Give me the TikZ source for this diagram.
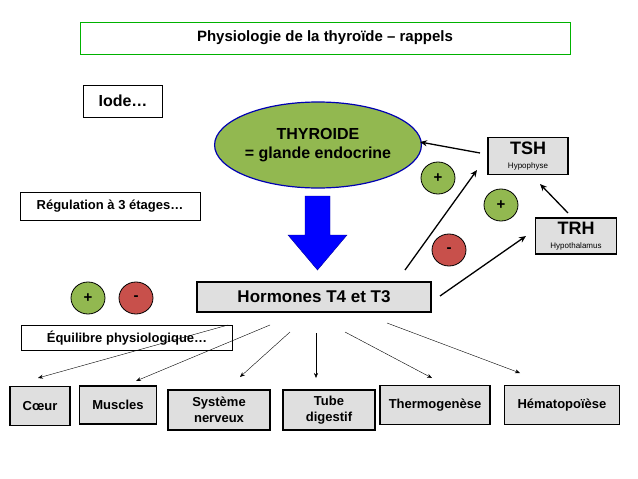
\documentclass[tikz,border=0pt]{standalone}
\usepackage{fontspec}
\setmainfont{Liberation Sans}
\usetikzlibrary{shapes.geometric,arrows.meta}
\newcommand{\fs}[1]{\fontsize{#1}{\numexpr#1*6/5\relax}\selectfont}
\begin{document}
\begin{tikzpicture}[x=1pt,y=-1pt,font=\bfseries\fs{13},
 box/.style={draw,line width=1.3pt,fill=gray!25,inner sep=0pt,align=center},
 wbox/.style={draw,inner sep=0pt,align=center},
 pm/.style={draw,thick,ellipse,minimum width=34pt,minimum height=32pt,inner sep=0pt,font=\bfseries\fs{15}},
 ar/.style={-{Stealth[length=7pt,width=6pt]},line width=1.3pt},
 ar2/.style={-{Stealth[length=5pt,width=4pt]}}]
\definecolor{gg}{RGB}{146,184,80}\definecolor{rr}{RGB}{200,80,75}
\useasboundingbox (0,0) rectangle (638,479);
\node[wbox,draw=green!70!black,thick,minimum width=490pt,minimum height=32pt,font=\bfseries\fs{15}] (title) at (325,38) {Physiologie de la thyroïde -- rappels};
\node[wbox,thick,minimum width=79pt,minimum height=32pt,font=\bfseries\fs{16}] (iode) at (123,101) {Iode…};
\node[draw=blue!70!black,line width=1.2pt,fill=gg,ellipse,inner sep=0pt,minimum width=176pt,minimum height=86pt,align=center,font=\bfseries\fs{16}] (thy) at (318,145) {THYROIDE\\= glande endocrine};
\node[wbox,thick,minimum width=180pt,minimum height=28pt] (reg) at (110,206) {Régulation à 3 étages…};
\node[box,minimum width=80pt,minimum height=37pt] (tsh) at (528,156) {{\fs{18}TSH}\\[-2pt]{\mdseries\fs{8}Hypophyse}};
\node[box,minimum width=81pt,minimum height=36pt] (trh) at (576,236) {{\fs{18}TRH}\\[-2pt]{\mdseries\fs{8}Hypothalamus}};
\node[box,minimum width=234pt,minimum height=30pt,font=\bfseries\fs{17}] (hor) at (314,297) {Hormones T4 et T3};
\node[wbox,minimum width=211pt,minimum height=25pt] (eq) at (127,338) {Équilibre physiologique…};
\fill[blue,draw=blue!60!black] (305,196) -- (330,196) -- (330,235) -- (347,235) -- (317.5,270) -- (288,235) -- (305,235) -- cycle;
\node[pm,fill=gg] (p1) at (438,178) {+};
\node[pm,fill=gg] (p2) at (501,205) {+};
\node[pm,fill=rr] (m1) at (449,250) {-};
\node[pm,fill=gg] (p3) at (88,298) {+};
\node[pm,fill=rr] (m2) at (136,298) {-};
\node[box,minimum width=60pt,minimum height=39pt] (b1) at (40,406) {Cœur};
\node[box,minimum width=77pt,minimum height=38pt] (b2) at (118,405) {Muscles};
\node[box,minimum width=102pt,minimum height=40pt] (b3) at (219,410) {Système\\nerveux};
\node[box,minimum width=92pt,minimum height=40pt] (b4) at (329,410) {Tube\\digestif};
\node[box,minimum width=110pt,minimum height=39pt] (b5) at (435,405) {Thermogenèse};
\node[box,minimum width=115pt,minimum height=39pt] (b6) at (562,405) {Hématopoïèse};
\coordinate (t0) at (480,153); \coordinate (t1) at (420,142);
\draw[ar] (t0) -- (t1);
\coordinate (h0) at (405,270); \coordinate (h1) at (477,170);
\draw[ar] (h0) -- (h1);
\coordinate (h2) at (440,296); \coordinate (h3) at (526,236);
\draw[ar] (h2) -- (h3);
\coordinate (r0) at (568,213); \coordinate (r1) at (540,184);
\draw[ar] (r0) -- (r1);
\coordinate (a1) at (228,325); \coordinate (c1) at (38,378);
\coordinate (a2) at (270,325); \coordinate (c2) at (136,381);
\coordinate (a3) at (290,332); \coordinate (c3) at (240,377);
\coordinate (a4) at (316,333); \coordinate (c4) at (316,378);
\coordinate (a5) at (345,332); \coordinate (c5) at (432,378);
\coordinate (a6) at (387,323); \coordinate (c6) at (520,373);
\foreach \i in {1,...,6} \draw[ar2] (a\i) -- (c\i);
\end{tikzpicture}
\end{document}
